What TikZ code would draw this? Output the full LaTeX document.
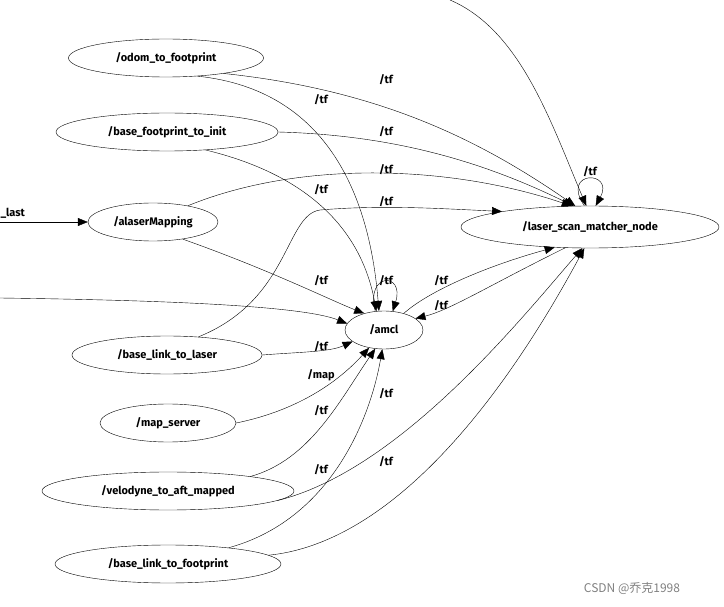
\documentclass[tikz,border=0pt]{standalone}
\usepackage{fontspec}
\setmainfont{Fira Sans}
\newfontfamily\cjk{Noto Sans CJK SC}
\usetikzlibrary{shapes.geometric,arrows.meta}
\tikzset{
  nd/.style={ellipse,draw,inner sep=0pt,font=\bfseries\fontsize{11}{12}\selectfont},
  ed/.style={-{Triangle[length=10pt,width=8pt]}},
  lb/.style={font=\bfseries\fontsize{11}{12}\selectfont}
}
\begin{document}
\begin{tikzpicture}[x=1pt,y=-1pt]
\useasboundingbox (0,0) rectangle (724,607);
\node[nd,minimum width=195,minimum height=38] (odom) at (166,58) {/odom\_to\_footprint};
\node[nd,minimum width=222,minimum height=38] (init) at (167,132) {/base\_footprint\_to\_init};
\node[nd,minimum width=130,minimum height=38] (alaser) at (153,222) {/alaserMapping};
\node[nd,minimum width=258,minimum height=42] (lsm) at (590,227) {/laser\_scan\_matcher\_node};
\node[nd,minimum width=78,minimum height=38] (amcl) at (384,330) {/amcl};
\node[nd,minimum width=190,minimum height=38] (bll) at (167,355) {/base\_link\_to\_laser};
\node[nd,minimum width=136,minimum height=38] (map) at (168,423) {/map\_server};
\node[nd,minimum width=252,minimum height=38] (velo) at (168,491) {/velodyne\_to\_aft\_mapped};
\node[nd,minimum width=226,minimum height=38] (blf) at (168,564) {/base\_link\_to\_footprint};
\coordinate (top) at (450,0);
\coordinate (left1) at (0,222);
\coordinate (left2) at (0,298);

% edges into laser_scan_matcher_node
\draw[ed] (top) .. controls (520,30) and (550,120) .. (lsm.100);
\draw[ed] (odom.-15) .. controls (380,90) and (480,140) .. (lsm.125);
\draw[ed] (init.east) .. controls (390,135) and (480,160) .. (lsm.128);
\draw[ed] (alaser.25) .. controls (300,160) and (450,165) .. (lsm.131);
\draw[ed] (bll.30) .. controls (290,300) and (285,215) .. (320,210) .. controls (380,205) and (430,208) .. (lsm.170);
\draw[ed] (lsm.105) .. controls (560,170) and (615,170) .. (lsm.75);
\draw[ed] (amcl.40) .. controls (430,290) and (490,265) .. (lsm.-150);
\draw[ed] (velo.-5) .. controls (400,470) and (520,320) .. (lsm.-110);
\draw[ed] (blf.5) .. controls (420,540) and (540,330) .. (lsm.-105);
% edges into amcl
\draw[ed] (odom.-30) .. controls (330,90) and (370,200) .. (amcl.105);
\draw[ed] (init.-25) .. controls (330,180) and (365,250) .. (amcl.112);
\draw[ed] (alaser.-30) .. controls (270,270) and (330,300) .. (amcl.140);
\draw[ed] (left2) .. controls (150,300) and (300,305) .. (amcl.170);
\draw[ed] (amcl.115) .. controls (365,272) and (405,272) .. (amcl.65);
\draw[ed] (bll.east) .. controls (300,352) and (330,352) .. (amcl.-160);
\draw[ed] (map.east) .. controls (300,410) and (340,380) .. (amcl.-130);
\draw[ed] (velo.10) .. controls (310,460) and (340,400) .. (amcl.-115);
\draw[ed] (blf.15) .. controls (330,520) and (370,420) .. (amcl.-95);
\draw[ed] (lsm.-140) .. controls (490,285) and (450,310) .. (amcl.20);
\draw[ed] (left1) -- (alaser.west);

% labels
\node[lb] (l1) at (386,80) {/tf};
\node[lb] (l2) at (321,100) {/tf};
\node[lb] (l3) at (386,132) {/tf};
\node[lb] (l4) at (386,170) {/tf};
\node[lb] (l5) at (321,190) {/tf};
\node[lb] (l6) at (386,202) {/tf};
\node[lb] (l7) at (590,172) {/tf};
\node[lb] (l8) at (321,281) {/tf};
\node[lb] (l9) at (386,281) {/tf};
\node[lb] (l10) at (441,281) {/tf};
\node[lb] (l11) at (441,306) {/tf};
\node[lb] (l12) at (321,347) {/tf};
\node[lb] (l13) at (321,375) {/map};
\node[lb] (l14) at (386,394) {/tf};
\node[lb] (l15) at (321,411) {/tf};
\node[lb] (l16) at (386,462) {/tf};
\node[lb] (l17) at (321,470) {/tf};
\node[lb,anchor=west] (l18) at (-3,213) {\_last};
\node[gray,font=\cjk\fontsize{12}{14}\selectfont] (mark) at (632,588) {CSDN @乔克1998};
\end{tikzpicture}
\end{document}
